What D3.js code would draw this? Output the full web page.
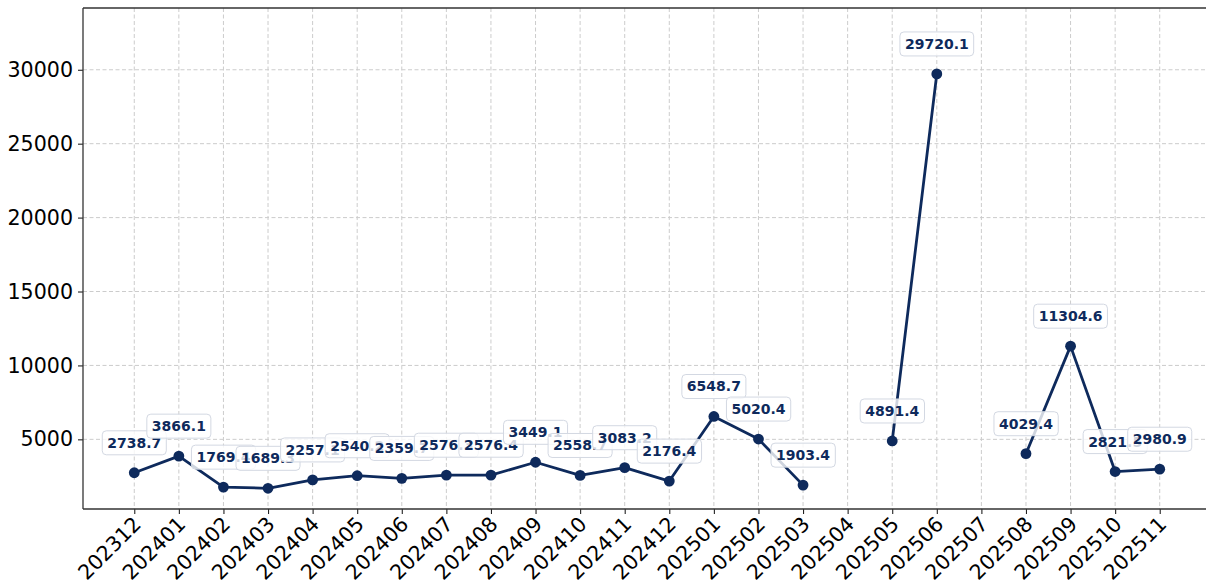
<!DOCTYPE html>
<html>
<head>
<meta charset="utf-8">
<script src="https://cdn.jsdelivr.net/npm/d3@7/dist/d3.min.js"></script>
<style>
  html, body { margin: 0; padding: 0; background: #fff; }
  svg { display: block; font-family: "DejaVu Sans", sans-serif; }
</style>
</head>
<body>
<svg id="chart" width="1206" height="587"></svg>
<script>
// Monthly series (null = no data for that month)
const months = ["202312","202401","202402","202403","202404","202405","202406","202407",
  "202408","202409","202410","202411","202412","202501","202502","202503","202504",
  "202505","202506","202507","202508","202509","202510","202511"];
const values = [2738.7, 3866.1, 1769.4, 1689.3, 2257.1, 2540.2, 2359.7, 2576.3,
  2576.4, 3449.1, 2558.7, 3083.2, 2176.4, 6548.7, 5020.4, 1903.4, null,
  4891.4, 29720.1, null, 4029.4, 11304.6, 2821.5, 2980.9];
const yTicks = [5000, 10000, 15000, 20000, 25000, 30000];

const navy = "#0e2a5c";
const FONT = "'DejaVu Sans', sans-serif";
const TICK_FS = 20.6;
const W = 1206, H = 587;
const plot = { left: 83, top: 8, right: 1211, bottom: 509 };

const svg = d3.select("#chart");

const idx = d3.range(months.length);
const x = d3.scaleLinear()
  .domain([-1.15, months.length - 1 + 1.15])
  .range([plot.left, plot.right]);

const present = values.filter(v => v != null);
const yMin = d3.min(present), yMax = d3.max(present);
const y = d3.scaleLinear()
  .domain([yMin - 0.05 * (yMax - yMin), yMax * 1.15])
  .range([plot.bottom, plot.top]);

// Grid
const grid = svg.append("g");
grid.selectAll("line.v").data(idx).join("line")
  .attr("x1", i => x(i)).attr("x2", i => x(i))
  .attr("y1", plot.top).attr("y2", plot.bottom)
  .attr("stroke", "#cccccc").attr("stroke-width", 1).attr("stroke-dasharray", "4,2.5");
grid.selectAll("line.h").data(yTicks).join("line")
  .attr("x1", plot.left).attr("x2", plot.right)
  .attr("y1", d => y(d)).attr("y2", d => y(d))
  .attr("stroke", "#cccccc").attr("stroke-width", 1).attr("stroke-dasharray", "4,2.5");

// Axes
const xAxis = d3.axisBottom(x).tickValues(idx).tickFormat(i => months[i]).tickSize(5).tickPadding(4);
const gx = svg.append("g").attr("transform", `translate(0,${plot.bottom})`).call(xAxis)
  .attr("font-family", FONT);
gx.select(".domain").remove();
gx.selectAll(".tick line").attr("stroke", "#222").attr("stroke-width", 1.1);
gx.selectAll(".tick text")
  .attr("font-size", TICK_FS).attr("fill", "#000").attr("font-family", FONT)
  .attr("text-anchor", "end")
  .attr("transform", "translate(-3,6) rotate(-45)")
  .attr("dy", "0.72em").attr("y", 0).attr("x", 0);

const yAxis = d3.axisLeft(y).tickValues(yTicks).tickFormat(d3.format("d")).tickSize(5).tickPadding(5);
const gy = svg.append("g").attr("transform", `translate(${plot.left},0)`).call(yAxis)
  .attr("font-family", FONT);
gy.select(".domain").remove();
gy.selectAll(".tick line").attr("stroke", "#222").attr("stroke-width", 1.1);
gy.selectAll(".tick text").attr("font-size", TICK_FS).attr("fill", "#000").attr("font-family", FONT);

// Spines
svg.append("line").attr("x1", plot.left).attr("x2", plot.left).attr("y1", plot.top).attr("y2", plot.bottom)
  .attr("stroke", "#333").attr("stroke-width", 1.3);
svg.append("line").attr("x1", plot.left).attr("x2", W).attr("y1", plot.bottom).attr("y2", plot.bottom)
  .attr("stroke", "#333").attr("stroke-width", 1.3);
svg.append("line").attr("x1", plot.left).attr("x2", W).attr("y1", plot.top).attr("y2", plot.top)
  .attr("stroke", "#333").attr("stroke-width", 1.3);

// Line (breaks at missing months)
const line = d3.line()
  .defined(d => d != null)
  .x((d, i) => x(i))
  .y(d => y(d));
svg.append("path").datum(values)
  .attr("d", line).attr("fill", "none")
  .attr("stroke", navy).attr("stroke-width", 2.8).attr("stroke-linejoin", "round");

const pts = idx.filter(i => values[i] != null);
svg.selectAll("circle.pt").data(pts).join("circle")
  .attr("cx", i => x(i)).attr("cy", i => y(values[i])).attr("r", 5.4)
  .attr("fill", navy);

// Value labels, drawn in order so later boxes sit on earlier ones
const labels = svg.append("g");
pts.forEach(i => {
  const g = labels.append("g").attr("transform", `translate(${x(i)},${y(values[i]) - 30})`);
  const t = g.append("text")
    .attr("text-anchor", "middle").attr("dy", "0.36em")
    .attr("font-size", 14).attr("font-weight", "bold").attr("fill", navy)
    .attr("font-family", FONT)
    .text(values[i].toFixed(1));
  const bb = t.node().getBBox();
  g.insert("rect", "text")
    .attr("x", bb.x - 5).attr("y", bb.y - 4)
    .attr("width", bb.width + 10).attr("height", bb.height + 8)
    .attr("rx", 4).attr("fill", "#ffffff").attr("fill-opacity", 0.8)
    .attr("stroke", "#d3d8e2").attr("stroke-width", 1);
});
</script>
</body>
</html>
